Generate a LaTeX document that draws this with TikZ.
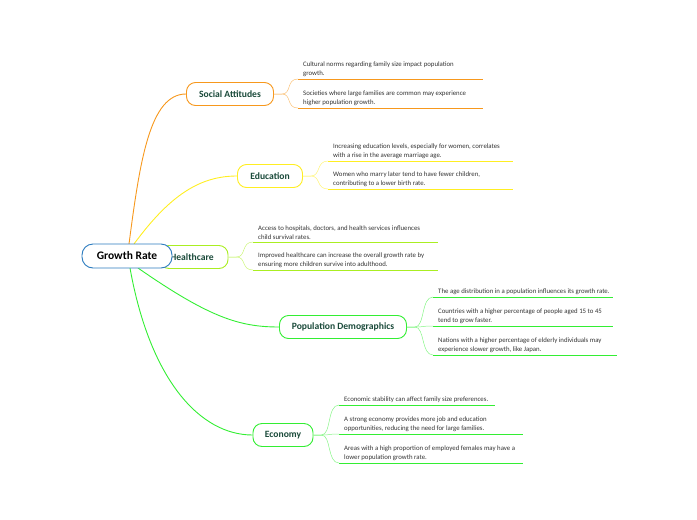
\documentclass[tikz,border=0pt]{standalone}
\usepackage{fontspec}
\setmainfont{Carlito}
\definecolor{corange}{HTML}{F7981D}
\definecolor{cyellow}{HTML}{FFEE22}
\definecolor{clime}{HTML}{AAEE22}
\definecolor{cgreen}{HTML}{33EE33}
\definecolor{cblue}{HTML}{2B7BBF}
\definecolor{ctext}{HTML}{1A4A3A}
\tikzset{
 branch/.style={draw=#1,line width=0.9pt,rounded corners=9pt,fill=white,font=\bfseries\fontsize{9.6}{10}\selectfont,text=ctext,minimum height=23pt,inner xsep=6pt},
 mainbox/.style={draw=cblue,line width=0.9pt,rounded corners=11pt,fill=white,font=\bfseries\fontsize{11.5}{12}\selectfont,minimum height=24pt,minimum width=90pt},
 leaftext/.style={anchor=south west,inner xsep=5pt,inner ysep=2.5pt,align=left,font=\fontsize{6.8}{8.5}\selectfont,text=black!80},
 conn/.style={line width=0.9pt,#1},
 lconn/.style={line width=0.5pt,#1!60},
 uline/.style={line width=1pt,#1}
}
\newcommand{\leaf}[7]{% name, branch, x1, ybottom, length, color, text
 \node[leaftext] (#1) at (#3,#4) {#7};
 \draw[uline=#6] (#1.south west) -- ++(#5,0);
 \draw[lconn=#6] (#2.east) -- ++(8,0) .. controls ++(10,0) and ++(-12,0) .. (#1.south west);
}
\begin{document}
\begin{tikzpicture}[x=1pt,y=-1pt]
\useasboundingbox (0,0) rectangle (697,520);
\node[branch=corange,minimum width=87pt] (soc) at (230,94) {Social Attitudes};
\node[branch=cyellow,minimum width=65pt] (edu) at (270,176) {Education};
\node[branch=clime,minimum width=68pt] (hea) at (194,257) {\hspace*{-4pt}Healthcare};
\node[branch=cgreen,minimum width=127pt] (pop) at (343,327) {Population Demographics};
\node[branch=cgreen,minimum width=60pt] (eco) at (283,435) {Economy};
\coordinate (m1) at (129,244);
\coordinate (m2) at (134,244);
\coordinate (m3) at (138,268);
\coordinate (m4) at (130,268);
\draw[conn=corange] (m1) .. controls (140,160) and (150,94) .. (soc.west);
\draw[conn=cyellow] (m2) .. controls (170,195) and (200,176) .. (edu.west);
\draw[conn=cgreen] (m3) .. controls (210,318) and (240,327) .. (pop.west);
\draw[conn=cgreen] (m4) .. controls (150,380) and (200,435) .. (eco.west);
\node[mainbox] (gr) at (127,256) {Growth Rate};
\leaf{s1}{soc}{298}{79}{185}{corange}{Cultural norms regarding family size impact population\\growth.}
\leaf{s2}{soc}{298}{108}{185}{corange}{Societies where large families are common may experience\\higher population growth.}
\leaf{e1}{edu}{328}{161}{185}{cyellow}{Increasing education levels, especially for women, correlates\\with a rise in the average marriage age.}
\leaf{e2}{edu}{328}{189}{185}{cyellow}{Women who marry later tend to have fewer children,\\contributing to a lower birth rate.}
\leaf{h1}{hea}{253}{242}{185}{clime}{Access to hospitals, doctors, and health services influences\\child survival rates.}
\leaf{h2}{hea}{253}{270}{185}{clime}{Improved healthcare can increase the overall growth rate by\\ensuring more children survive into adulthood.}
\leaf{p1}{pop}{433}{297}{180}{cgreen}{The age distribution in a population influences its growth rate.}
\leaf{p2}{pop}{433}{326}{180}{cgreen}{Countries with a higher percentage of people aged 15 to 45\\tend to grow faster.}
\leaf{p3}{pop}{433}{355}{184}{cgreen}{Nations with a higher percentage of elderly individuals may\\experience slower growth, like Japan.}
\leaf{c1}{eco}{339}{405}{156}{cgreen}{Economic stability can affect family size preferences.}
\leaf{c2}{eco}{339}{434}{184}{cgreen}{A strong economy provides more job and education\\opportunities, reducing the need for large families.}
\leaf{c3}{eco}{339}{463}{184}{cgreen}{Areas with a high proportion of employed females may have a\\lower population growth rate.}
\end{tikzpicture}
\end{document}
